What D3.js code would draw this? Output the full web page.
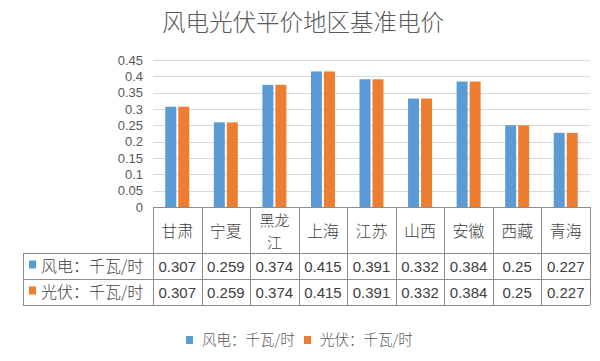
<!DOCTYPE html>
<html><head><meta charset="utf-8">
<script src="https://cdn.jsdelivr.net/npm/d3@7/dist/d3.min.js"></script>
<style>body{margin:0;background:#fff}svg{display:block}</style>
</head><body>
<svg id="c" width="600" height="361"></svg>
<script>
const categories = ["甘肃","宁夏","黑龙江","上海","江苏","山西","安徽","西藏","青海"];
const windValues = [0.307,0.259,0.374,0.415,0.391,0.332,0.384,0.25,0.227];
const solarValues = [0.307,0.259,0.374,0.415,0.391,0.332,0.384,0.25,0.227];
const seriesNames = ["风电：千瓦/时","光伏：千瓦/时"];
const yTicks = [0,0.05,0.1,0.15,0.2,0.25,0.3,0.35,0.4,0.45];
const colors = ["#5b9bd5","#ed7d31"];
const title = "风电光伏平价地区基准电价";

(function(){
const svg = d3.select("#c");
const font = "'Noto Sans CJK SC', 'Noto Sans', sans-serif";
const pl = 153, pr = 590, pt = 60, pb = 207;
const x = d3.scaleBand().domain(categories).range([pl,pr]).padding(0);
const y = d3.scaleLinear().domain([0,0.45]).range([pb,pt]);
const series = [windValues, solarValues];

svg.append("text").attr("x",303).attr("y",31).attr("text-anchor","middle")
  .attr("font-family",font).attr("font-size",23.5).attr("font-weight",300).attr("fill","#595959").text(title);

// grid
svg.append("g").selectAll("line").data(yTicks.slice(1)).join("line")
  .attr("x1",pl).attr("x2",pr).attr("y1",d=>Math.round(y(d))+0.5).attr("y2",d=>Math.round(y(d))+0.5)
  .attr("stroke","#d9d9d9").attr("stroke-width",1);

// y axis
const yAxis = d3.axisLeft(y).tickValues(yTicks).tickSize(0).tickPadding(10).tickFormat(d=>String(+d.toFixed(2)));
const ga = svg.append("g").attr("transform",`translate(${pl},0)`).call(yAxis);
ga.select(".domain").remove();
ga.selectAll("text").attr("font-family","'Liberation Sans', Arial, sans-serif").attr("font-size",13).attr("fill","#595959");

// bars
const bw = 11, gap = 2;
series.forEach((vals,si)=>{
  svg.append("g").selectAll("rect").data(vals).join("rect")
    .attr("x",(d,i)=>x(categories[i]) + x.bandwidth()/2 - bw - gap/2 + si*(bw+gap))
    .attr("y",d=>y(d)).attr("width",bw).attr("height",d=>pb-y(d))
    .attr("fill",colors[si]);
});

// data table
const rowH = [207,253,279,305];
const tleft = 23;
const tg = svg.append("g").attr("stroke","#8c8c8c").attr("stroke-width",1).attr("fill","none");
tg.append("line").attr("x1",pl).attr("x2",pr).attr("y1",rowH[0]+0.5).attr("y2",rowH[0]+0.5);
[1,2,3].forEach(k=>{
  tg.append("line").attr("x1",tleft).attr("x2",pr).attr("y1",rowH[k]+0.5).attr("y2",rowH[k]+0.5);
});
categories.forEach((c,i)=>{
  const xx = Math.round(x(c))+0.5;
  tg.append("line").attr("x1",xx).attr("x2",xx).attr("y1",rowH[0]).attr("y2",rowH[3]);
});
tg.append("line").attr("x1",pr+0.5).attr("x2",pr+0.5).attr("y1",rowH[0]).attr("y2",rowH[3]);
tg.append("line").attr("x1",tleft+0.5).attr("x2",tleft+0.5).attr("y1",rowH[1]).attr("y2",rowH[3]);

categories.forEach((c,i)=>{
  const cx = x(c)+x.bandwidth()/2;
  if (c.length>2){
    [[c.slice(0,2),226],[c.slice(2),248]].forEach(([s,yy])=>{
      svg.append("text").attr("x",cx).attr("y",yy).attr("text-anchor","middle").attr("font-family",font)
        .attr("font-size",15).attr("font-weight",300).attr("fill","#404040").text(s);
    });
  } else {
    svg.append("text").attr("x",cx).attr("y",237).attr("text-anchor","middle").attr("font-family",font)
      .attr("font-size",16).attr("font-weight",300).attr("fill","#404040").text(c);
  }
});
series.forEach((vals,si)=>{
  const yy = (rowH[si+1]+rowH[si+2])/2 + 5.5;
  svg.append("g").selectAll("text").data(vals).join("text")
    .attr("x",(d,i)=>x(categories[i])+x.bandwidth()/2).attr("y",yy)
    .attr("text-anchor","middle").attr("font-family","'Liberation Sans', Arial, sans-serif")
    .attr("font-size",15).attr("fill","#404040").text(d=>String(d));
  svg.append("rect").attr("x",29).attr("y",yy-11).attr("width",7).attr("height",8).attr("fill",colors[si]);
  svg.append("text").attr("x",41).attr("y",yy).attr("font-family",font).attr("font-size",16)
    .attr("font-weight",300).attr("fill","#404040").text(seriesNames[si]);
});

const lg = svg.append("g");
[[186,0],[304,1]].forEach(([lx,si])=>{
  lg.append("rect").attr("x",lx).attr("y",336).attr("width",7).attr("height",8).attr("fill",colors[si]);
  lg.append("text").attr("x",lx+16).attr("y",345).attr("font-family",font).attr("font-size",14.5)
    .attr("font-weight",300).attr("fill","#595959").text(seriesNames[si]);
});
})();
</script>
</body></html>
